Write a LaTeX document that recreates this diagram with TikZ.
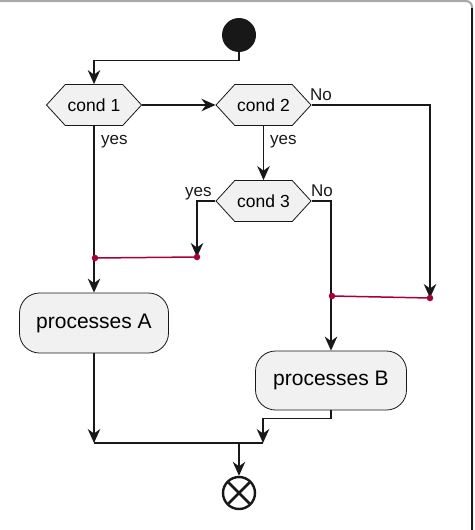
\documentclass[tikz,border=0pt]{standalone}
\usepackage{fontspec}
\setmainfont{Liberation Sans}
\usetikzlibrary{arrows.meta,shapes.symbols}
\definecolor{lc}{HTML}{181818}
\definecolor{nf}{HTML}{F1F1F1}
\definecolor{barc}{HTML}{A80036}
\definecolor{framegray}{HTML}{A8A8A8}
\begin{document}
\begin{tikzpicture}[x=1pt,y=-1pt,
  arr/.style={draw=lc, line width=1.4pt, -{Stealth[length=14pt,width=12.5pt,inset=4.5pt]}},
  ln/.style={draw=lc, line width=1.4pt},
  cond/.style={shape=signal, signal to=west and east, signal pointer angle=95, draw=lc, fill=nf, line width=0.8pt, minimum width=95pt, minimum height=41pt, inner sep=0pt, font=\fontsize{17.5}{20}\selectfont},
  proc/.style={rectangle, rounded corners=20pt, draw=lc, fill=nf, line width=0.8pt, minimum height=60pt, inner sep=0pt, font=\fontsize{21}{24}\selectfont},
  lbl/.style={font=\fontsize{17}{20}\selectfont, inner sep=0pt, anchor=base west, text=lc},
  barl/.style={draw=barc, line width=1.5pt},
  bardot/.style={circle, fill=barc, inner sep=0pt, minimum size=6.5pt}]
\useasboundingbox (0,0) rectangle (474,530);
% frame
\draw[framegray, line width=2pt, rounded corners=6pt] (0,1) -| (472,530);
\draw[lc, line width=2pt] (472,8) -- (472,530);

% nodes
\node[circle, fill=lc, minimum size=34pt, inner sep=0pt] (start) at (239,35) {};
\node[cond] (c1) at (94,105) {cond 1};
\node[cond] (c2) at (263.5,105) {cond 2};
\node[cond] (c3) at (263.5,201) {cond 3};
\node[proc, minimum width=149pt] (pA) at (94,323) {processes A};
\node[proc, minimum width=151pt, minimum height=59pt] (pB) at (331,380.5) {processes B};
\node[circle, draw=lc, fill=white, line width=2.4pt, minimum size=32pt, inner sep=0pt,
  path picture={\draw[lc, line width=2.6pt]
    ([shift={(-10.5pt,-10.5pt)}]path picture bounding box.center) -- ([shift={(10.5pt,10.5pt)}]path picture bounding box.center)
    ([shift={(-10.5pt,10.5pt)}]path picture bounding box.center) -- ([shift={(10.5pt,-10.5pt)}]path picture bounding box.center);}] (end) at (239,493) {};

% labels
\node[lbl] (l1) at (101,144) {yes};
\node[lbl] (l2) at (310,100) {No};
\node[lbl] (l3) at (270,144) {yes};
\node[lbl] (l4) at (185,196) {yes};
\node[lbl] (l5) at (311,196) {No};

% helper coordinates
\coordinate (b1l) at (95,258);
\coordinate (b1r) at (197,257);
\coordinate (b2l) at (332,296);
\coordinate (b2r) at (430,298);
\coordinate (mA) at (94,443);
\coordinate (mB) at (263,443);
\coordinate (mC) at (239,443);

% connectors
\draw[arr] (start.south) -- ++(0,8) -| (c1.north);
\draw[arr] (c1.east) -- (c2.west);
\draw[arr] (c1.south) -- (pA.north);
\draw[arr] (c2.south) -- (c3.north);
\draw[arr] (c2.east) -| (b2r);
\draw[arr] (c3.west) -| (b1r);
\draw[arr] (c3.east) -| (pB.north);
\draw[arr] (pA.south) -- (mA);
\draw[arr] (pB.south) -- ++(0,8) -| (mB);
\draw[ln] (mA) -- (mB);
\draw[arr] (mC) -- (end.north);

% merge bars
\draw[barl] (b1l) -- (b1r);
\draw[barl] (b2l) -- (b2r);
\node[bardot] (d1) at (b1l) {};
\node[bardot] (d2) at (b1r) {};
\node[bardot] (d3) at (b2l) {};
\node[bardot] (d4) at (b2r) {};
\end{tikzpicture}
\end{document}
